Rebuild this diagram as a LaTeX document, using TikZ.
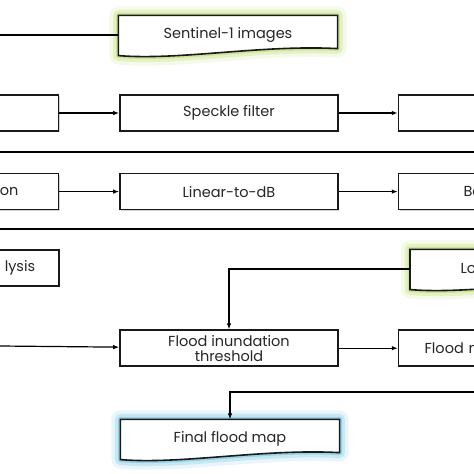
\documentclass[tikz,border=0pt]{standalone}
\usepackage{fontspec}
\setmainfont{Poppins}
\usetikzlibrary{positioning}
\usetikzlibrary{shadows,backgrounds,arrows.meta}

\definecolor{glowgreen}{RGB}{170,210,80}
\definecolor{glowblue}{RGB}{80,180,215}

\tikzset{
  plain/.style={minimum width=218pt,minimum height=36pt,inner sep=0pt,align=center,
    font=\fontsize{14.5}{15}\selectfont,text=black!85},
  box/.style={plain,draw=black!90,line width=1.6pt,fill=white,
    drop shadow={shadow xshift=1.2pt,shadow yshift=-1.2pt,opacity=.35}},
  docbox/.style={plain,minimum height=38pt},
  glow/.style={preaction={draw=#1,line width=18pt,opacity=.13,line join=round},
    preaction={draw=#1,line width=11pt,opacity=.22,line join=round},
    preaction={draw=#1,line width=5pt,opacity=.4,line join=round}}
}

% outline with a wavy bottom, drawn behind a node
\newcommand{\docoutline}[2]{%
  \draw[glow=#2,draw=black!90,line width=1.6pt,fill=white]
    (#1.north west) -- (#1.north east) -- ([yshift=6pt]#1.south east)
    .. controls ([xshift=32pt,yshift=10pt]#1.south) and ([xshift=-48pt,yshift=-6pt]#1.south)
    .. ([yshift=-1pt]#1.south west) -- cycle;}

\begin{document}
\begin{tikzpicture}[x=1pt,y=-1pt,>={Latex[length=6pt,width=4.5pt]},line width=1.2pt]
  \useasboundingbox (0,0) rectangle (474,474);

  \node[docbox]   (sentinel) at (228,35)          {Sentinel-1 images};
  \node[box]      (speckle)  at (229,113)         {Speckle filter};
  \node[box]      (pre)      [left=60pt of speckle]  {};
  \node[box]      (post)     [right=59pt of speckle] {};

  \node[box]      (lin)      [below=41pt of speckle] {Linear-to-dB};
  \node[box,align=right,text width=138pt,inner xsep=40pt] (cal) [left=60pt of lin] {on};
  \node[box,align=left,text width=88pt,inner xsep=65pt]   (be)  [right=59pt of lin] {Be};

  \node[box,align=right,text width=170pt,inner xsep=24pt] (ana) at (60,268) [anchor=east] {lysis};
  \node[docbox,align=left,text width=118pt,inner xsep=50pt] (lo) at (410,269) [anchor=west] {Lo};

  \node[box]      (flood)    [below=119pt of lin] {Flood inundation\\threshold};
  \node[box,align=left,text width=166pt,inner xsep=26pt] (fmap) [right=59pt of flood] {Flood m};

  \node[docbox]   (final)    at (230,439) {Final flood map};

  \begin{scope}[on background layer]
    \docoutline{sentinel}{glowgreen}
    \docoutline{lo}{glowgreen}
    \docoutline{final}{glowblue}
  \end{scope}

  \coordinate (inS) at (0,35);
  \coordinate (inF) at (0,346);
  \coordinate (inR) at (474,392);

  \draw (0,152) -- (474,152);
  \draw (0,229) -- (474,229);

  \draw (inS) -- (sentinel);
  \draw[->] (pre) -- (speckle);
  \draw[->] (speckle) -- (post);
  \draw[->] (cal) -- (lin);
  \draw[->] (lin) -- (be);
  \draw[->] (lo.west) -| (flood.north);
  \draw[->] (inF) -- (flood);
  \draw[->] (flood) -- (fmap);
  \draw[->] (inR) -| (final.north);
\end{tikzpicture}
\end{document}
